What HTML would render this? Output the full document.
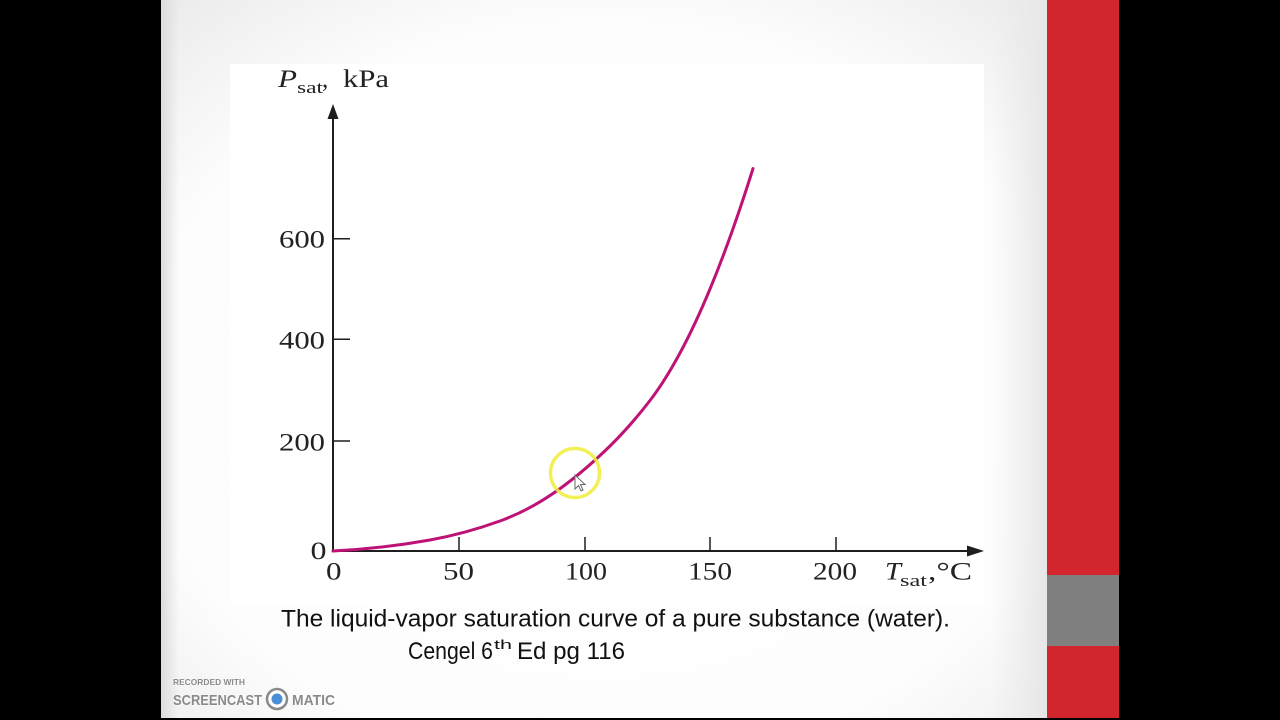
<!DOCTYPE html>
<html>
<head>
<meta charset="utf-8">
<style>
  html,body{margin:0;padding:0;background:#000;}
  #wrap{position:relative;width:1280px;height:720px;overflow:hidden;background:#000;}
  svg{position:absolute;left:0;top:0;}
</style>
</head>
<body>
<div id="wrap">
<svg width="1280" height="720" viewBox="0 0 1280 720" xmlns="http://www.w3.org/2000/svg">
  <defs>
    <radialGradient id="slideg" cx="0.5" cy="0.55" r="0.8">
      <stop offset="0" stop-color="#ffffff"/>
      <stop offset="0.65" stop-color="#fdfdfd"/>
      <stop offset="1" stop-color="#e6e6e6"/>
    </radialGradient>
    <linearGradient id="leftg" x1="0" y1="0" x2="1" y2="0">
      <stop offset="0" stop-color="#dcdcdc"/>
      <stop offset="1" stop-color="#dcdcdc" stop-opacity="0"/>
    </linearGradient>
    <linearGradient id="rightg" x1="0" y1="0" x2="1" y2="0">
      <stop offset="0" stop-color="#ebebeb" stop-opacity="0"/>
      <stop offset="1" stop-color="#e6e6e6"/>
    </linearGradient>
  </defs>

  <!-- slide background -->
  <rect x="161" y="0" width="886" height="718" fill="url(#slideg)"/>
  <rect x="161" y="0" width="18" height="718" fill="url(#leftg)"/>
  <rect x="990" y="0" width="57" height="718" fill="url(#rightg)"/>
  <!-- figure white area -->
  <rect x="230" y="64" width="754" height="540" fill="#ffffff"/>

  <!-- red bar -->
  <rect x="1047" y="0" width="72" height="718" fill="#d2252e"/>
  <rect x="1047" y="575" width="72" height="71" fill="#7f7f7f"/>

  <!-- axes -->
  <g stroke="#1e1e1e" stroke-width="2" fill="none">
    <line x1="333" y1="116" x2="333" y2="551"/>
    <line x1="333" y1="551" x2="970" y2="551"/>
    <line x1="333" y1="238.7" x2="350" y2="238.7" stroke-width="1.5"/>
    <line x1="333" y1="339.3" x2="350" y2="339.3" stroke-width="1.5"/>
    <line x1="333" y1="441" x2="350" y2="441" stroke-width="1.5"/>
    <line x1="459" y1="537" x2="459" y2="551" stroke-width="1.5"/>
    <line x1="585" y1="537" x2="585" y2="551" stroke-width="1.5"/>
    <line x1="710" y1="537" x2="710" y2="551" stroke-width="1.5"/>
    <line x1="836" y1="537" x2="836" y2="551" stroke-width="1.5"/>
  </g>
  <polygon points="333,104 327.5,119 338.5,119" fill="#1e1e1e"/>
  <polygon points="984,551 967,545.5 967,556.5" fill="#1e1e1e"/>

  <!-- curve -->
  <path d="M333,551 C365.3,549.4 397.7,545.8 430,540 C453.3,535.8 476.7,529.4 500,521 C520,513.8 540,503 560,488.6 C576.7,476.6 593.3,462.3 610,446 C623.3,432.9 636.7,417.8 650,400.5 C660,387.5 670,371.5 680,353 C690,334.5 700,313.1 710,289 C720,264.9 730,238.1 740,208.5 C744.3,195.7 748.7,182.4 753,168.5"
        fill="none" stroke="#be1277" stroke-width="3" stroke-linecap="round"/>

  <!-- labels -->
  <g font-family="'Liberation Serif', 'DejaVu Serif', serif" fill="#222">
    <text x="278" y="87" font-size="25" font-style="italic" textLength="19" lengthAdjust="spacingAndGlyphs">P</text>
    <text x="297" y="93" font-size="17" textLength="26" lengthAdjust="spacingAndGlyphs">sat</text>
    <text x="322" y="87" font-size="25">,</text>
    <text x="343" y="87" font-size="25" textLength="46" lengthAdjust="spacingAndGlyphs">kPa</text>

    <text x="279" y="247.5" font-size="25" textLength="46" lengthAdjust="spacingAndGlyphs">600</text>
    <text x="279" y="348.3" font-size="25" textLength="46" lengthAdjust="spacingAndGlyphs">400</text>
    <text x="279" y="450.5" font-size="25" textLength="46" lengthAdjust="spacingAndGlyphs">200</text>
    <text x="310.5" y="559" font-size="25" textLength="16" lengthAdjust="spacingAndGlyphs">0</text>

    <text x="326" y="579.5" font-size="25" textLength="15.5" lengthAdjust="spacingAndGlyphs">0</text>
    <text x="443" y="579.5" font-size="25" textLength="31" lengthAdjust="spacingAndGlyphs">50</text>
    <text x="565" y="579.5" font-size="25" textLength="42" lengthAdjust="spacingAndGlyphs">100</text>
    <text x="688" y="579.5" font-size="25" textLength="44" lengthAdjust="spacingAndGlyphs">150</text>
    <text x="813" y="579.5" font-size="25" textLength="44" lengthAdjust="spacingAndGlyphs">200</text>
    <text x="885" y="579.5" font-size="25" font-style="italic" textLength="16" lengthAdjust="spacingAndGlyphs">T</text>
    <text x="900" y="586" font-size="17" textLength="27" lengthAdjust="spacingAndGlyphs">sat</text>
    <text x="928" y="579.5" font-size="25" textLength="44" lengthAdjust="spacingAndGlyphs">,°C</text>
  </g>

  <!-- caption -->
  <g font-family="'Liberation Sans', 'DejaVu Sans', sans-serif" fill="#111">
    <text x="281" y="626.5" font-size="24" textLength="669" lengthAdjust="spacingAndGlyphs">The liquid-vapor saturation curve of a pure substance  (water).</text>
    <text x="408" y="659" font-size="24" textLength="85" lengthAdjust="spacingAndGlyphs">Cengel 6</text>
    <text x="494" y="649" font-size="13" textLength="18" lengthAdjust="spacingAndGlyphs">th</text>
    <text x="517" y="659" font-size="24" textLength="108" lengthAdjust="spacingAndGlyphs">Ed pg 116</text>
  </g>

  <!-- yellow highlight circle and cursor -->
  <circle cx="575" cy="473" r="24.5" fill="none" stroke="#eeee3a" stroke-width="3.5" opacity="0.85"/>
  <path d="M575,475 L575,489 L578.5,485.5 L581,491 L583,490 L580.5,484.5 L585,484.5 Z" fill="#ffffff" stroke="#666" stroke-width="1"/>

  <!-- screencast-o-matic watermark -->
  <g font-family="'Liberation Sans', 'DejaVu Sans', sans-serif" font-weight="bold" fill="#8a8a8a" stroke="#ffffff" stroke-width="0.6" paint-order="stroke">
    <text x="173" y="685" font-size="8.5" textLength="72" lengthAdjust="spacingAndGlyphs">RECORDED WITH</text>
    <text x="173" y="705" font-size="15" textLength="89" lengthAdjust="spacingAndGlyphs">SCREENCAST</text>
    <text x="292" y="705" font-size="15" textLength="43" lengthAdjust="spacingAndGlyphs">MATIC</text>
  </g>
  <circle cx="277" cy="699" r="10" fill="#ffffff" stroke="#8a8a8a" stroke-width="2.5"/>
  <circle cx="277" cy="699" r="5.5" fill="#4a8fd6"/>
</svg>
</div>
</body>
</html>
